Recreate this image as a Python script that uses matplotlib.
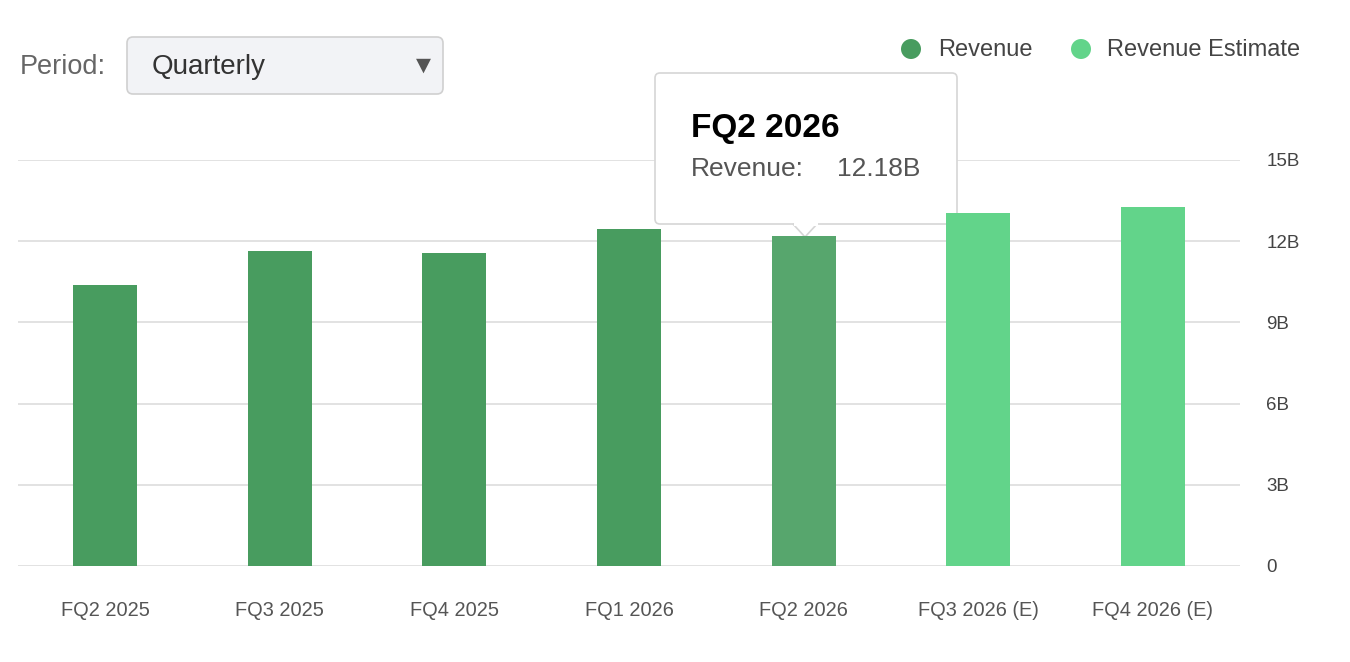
import matplotlib
matplotlib.use("Agg")
import matplotlib.pyplot as plt
from matplotlib.patches import FancyBboxPatch, Circle, Polygon
from matplotlib.transforms import IdentityTransform
from matplotlib.lines import Line2D

# ---- data ----
quarters = ["FQ2 2025", "FQ3 2025", "FQ4 2025", "FQ1 2026", "FQ2 2026",
            "FQ3 2026 (E)", "FQ4 2026 (E)"]
revenue = [10.38, 11.63, 11.56, 12.44, 12.18]          # billions, actual
revenue_estimate = [13.03, 13.25]                       # billions, estimates
y_ticks = [0, 3, 6, 9, 12, 15]
y_tick_labels = ["0", "3B", "6B", "9B", "12B", "15B"]
highlight_label = "FQ2 2026"

W, H = 1350, 662
plt.rcParams['font.family'] = ['Liberation Sans', 'DejaVu Sans']
fig = plt.figure(figsize=(W / 100, H / 100), dpi=100)

# axes placement in pixels
left_px, right_px, top_px, bottom_px = 18, 1240, 160, 566
ax = fig.add_axes([left_px / W, 1 - bottom_px / H,
                   (right_px - left_px) / W, (bottom_px - top_px) / H])

c_rev = "#489C5F"
c_hi = "#57A66D"
c_est = "#62D48A"

n_act = len(revenue)
x_act = list(range(n_act))
x_est = list(range(n_act, n_act + len(revenue_estimate)))
colors_act = [c_hi if quarters[i] == highlight_label else c_rev for i in x_act]
ax.bar(x_act, revenue, width=0.367, color=colors_act, zorder=3)
ax.bar(x_est, revenue_estimate, width=0.367, color=c_est, zorder=3)

ax.set_xlim(-0.5, len(quarters) - 0.5)
ax.set_ylim(0, 15)
ax.set_yticks(y_ticks)
ax.set_yticklabels(y_tick_labels)
ax.set_xticks(range(len(quarters)))
ax.set_xticklabels(quarters)
ax.yaxis.tick_right()
ax.tick_params(axis='y', length=0, pad=19, labelsize=13.5, labelcolor="#444444")
ax.tick_params(axis='x', length=0, pad=25, labelsize=14.4, labelcolor="#555555")
for lab in ax.get_yticklabels():
    lab.set_horizontalalignment('left')
ax.grid(axis='y', color="#dddddd", linewidth=1.2, zorder=0)
ax.set_axisbelow(True)
for s in ax.spines.values():
    s.set_visible(False)
ax.set_facecolor("white")

ident = IdentityTransform()

def py(y):
    return H - y

# ---- Period selector ----
fig.text(20 / W, 1 - 67 / H, "Period:", fontsize=19.5, color="#666666",
         va='center', ha='left')
box = FancyBboxPatch((127, py(94)), 316, 57, boxstyle="round,pad=0,rounding_size=6",
                     fc="#f2f3f6", ec="#d0d0d0", lw=1.2, transform=ident)
fig.patches.append(box)
fig.text(152 / W, 1 - 67 / H, "Quarterly", fontsize=20, color="#333333",
         va='center', ha='left')
fig.text(423 / W, 1 - 65 / H, "▼", fontsize=14, color="#555555",
         va='center', ha='center', family='DejaVu Sans')

# ---- legend ----
for cx, col, lab, tx in [(911, c_rev, "Revenue", 938),
                         (1081, c_est, "Revenue Estimate", 1107)]:
    fig.patches.append(Circle((cx, py(49)), 10, fc=col, ec='none', transform=ident))
    fig.text(tx / W, 1 - 50 / H, lab, fontsize=17, color="#444444",
             va='center', ha='left')

# ---- tooltip (above grid, below bars, as in the reference) ----
tip = FancyBboxPatch((655, py(224)), 302, 151, boxstyle="round,pad=0,rounding_size=5",
                     fc="white", ec="#d6d6d6", lw=1.2, transform=ident, zorder=2,
                     clip_on=False)
ax.add_artist(tip)
tri = Polygon([(793, py(224)), (805, py(237)), (817, py(224))], closed=True,
              fc="white", ec="#d6d6d6", lw=1.2, transform=ident, zorder=2.1,
              clip_on=False)
ax.add_artist(tri)
ax.add_artist(Line2D([794.5, 815.5], [py(224), py(224)], color="white", lw=2.2,
                     transform=ident, zorder=2.2, clip_on=False))
fig.text(691 / W, 1 - 129 / H, highlight_label, fontsize=24, fontweight='bold',
         color="black", va='center', ha='left', zorder=13)
fig.text(691 / W, 1 - 169 / H, "Revenue:", fontsize=19, color="#555555",
         va='center', ha='left', zorder=13)
fig.text(837 / W, 1 - 169 / H, f"{revenue[quarters.index(highlight_label)]:.2f}B",
         fontsize=19, color="#555555", va='center', ha='left', zorder=13)

fig.savefig("out.png", dpi=100, facecolor="white")
